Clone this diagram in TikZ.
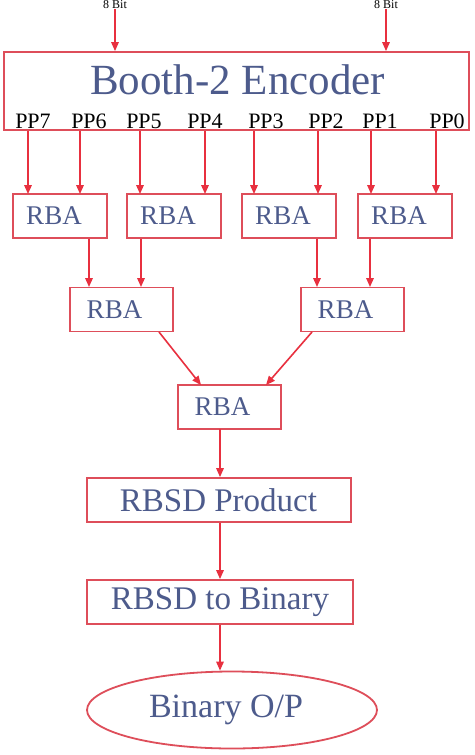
\documentclass[tikz,border=0pt]{standalone}
\usepackage{fontspec}
\setmainfont{Liberation Serif}
\usetikzlibrary{arrows.meta,shapes.geometric}
\definecolor{lred}{HTML}{E8303F}
\definecolor{bred}{HTML}{DE4E5A}
\definecolor{tblue}{HTML}{4D5B8C}
\tikzset{
  arr/.style={draw=lred,line width=1.6pt,-{Triangle[length=9pt,width=7.5pt]}},
  boxshape/.style={draw=bred,line width=1.8pt,rectangle,inner sep=0pt},
  rbabox/.style={boxshape,minimum width=94pt,minimum height=44pt,
     label={[font=\fontsize{27}{30}\selectfont,text=tblue,xshift=-6pt]center:RBA}},
  rbawide/.style={boxshape,minimum width=103pt,minimum height=44pt,
     label={[font=\fontsize{27}{30}\selectfont,text=tblue,xshift=-7pt]center:RBA}},
  bigtext/.style={font=\fontsize{33}{36}\selectfont,text=tblue},
  pplab/.style={font=\fontsize{22}{24}\selectfont,text=black,anchor=base,inner sep=0pt},
  bitlab/.style={font=\fontsize{12}{13}\selectfont,text=black,inner sep=0pt},
}
\begin{document}
\begin{tikzpicture}[x=1pt,y=-1pt]
\useasboundingbox[fill=white] (0,0) rectangle (474,755);

% inputs
\node[bitlab] (in1) at (115,5) {8 Bit};
\node[bitlab] (in2) at (386,5) {8 Bit};

% encoder
\node[boxshape,minimum width=465pt,minimum height=78pt] (enc) at (236.5,91) {};
\node[font=\fontsize{43}{46}\selectfont,text=tblue,anchor=base,inner sep=0pt] (enct) at (237.5,94) {Booth-2 Encoder};
\draw[arr] (in1.south) -- (enc.north -| in1);
\draw[arr] (in2.south) -- (enc.north -| in2);

\node[pplab] (pp7) at (33,128) {PP7};
\node[pplab] (pp6) at (89,128) {PP6};
\node[pplab] (pp5) at (144,128) {PP5};
\node[pplab] (pp4) at (205,128) {PP4};
\node[pplab] (pp3) at (266,128) {PP3};
\node[pplab] (pp2) at (326,128) {PP2};
\node[pplab] (pp1) at (380,128) {PP1};
\node[pplab] (pp0) at (447,128) {PP0};

% row 1
\node[rbabox] (r1) at (60,216) {};
\node[rbabox] (r2) at (174,216) {};
\node[rbabox] (r3) at (289,216) {};
\node[rbabox] (r4) at (405,216) {};

\coordinate (a7) at (28,194);
\coordinate (a6) at (80,194);
\coordinate (a5) at (140,194);
\coordinate (a4) at (205,194);
\coordinate (a3) at (254,194);
\coordinate (a2) at (318,194);
\coordinate (a1) at (371,194);
\coordinate (a0) at (436,194);
\foreach \i in {0,...,7} {\draw[arr] (enc.south -| a\i) -- (a\i);}

% row 2
\node[rbawide] (s1) at (121.5,309.5) {};
\node[rbawide] (s2) at (352.5,309.5) {};
\coordinate (b1) at (89,287);
\coordinate (b2) at (141,287);
\coordinate (b3) at (317,287);
\coordinate (b4) at (370,287);
\draw[arr] (r1.south -| b1) -- (b1);
\draw[arr] (r2.south -| b2) -- (b2);
\draw[arr] (r3.south -| b3) -- (b3);
\draw[arr] (r4.south -| b4) -- (b4);

% row 3
\node[rbawide] (t1) at (229.5,407) {};
\coordinate (c1s) at (159,332);
\coordinate (c2s) at (312,332);
\coordinate (c1) at (201,385);
\coordinate (c2) at (266,385);
\draw[arr] (c1s) -- (c1);
\draw[arr] (c2s) -- (c2);

% product
\node[boxshape,minimum width=264pt,minimum height=44pt] (prod) at (219,500) {};
\node[bigtext,inner sep=0pt] (prodt) at (218.5,500) {RBSD Product};
\node[boxshape,minimum width=266pt,minimum height=44pt] (conv) at (220,602) {};
\node[bigtext,inner sep=0pt] (convt) at (220,602) {RBSD to Binary};
\node[draw=bred,line width=1.8pt,ellipse,minimum width=290pt,minimum height=77pt,inner sep=0pt] (out) at (232,710) {};
\node[font=\fontsize{34}{36}\selectfont,text=tblue,inner sep=0pt] (outt) at (226,710) {Binary O/P};

\coordinate (d0) at (220,429);
\draw[arr] (d0) -- (prod.north -| d0);
\draw[arr] (prod.south -| d0) -- (conv.north -| d0);
\draw[arr] (conv.south -| d0) -- (out.north -| d0);
\end{tikzpicture}
\end{document}
